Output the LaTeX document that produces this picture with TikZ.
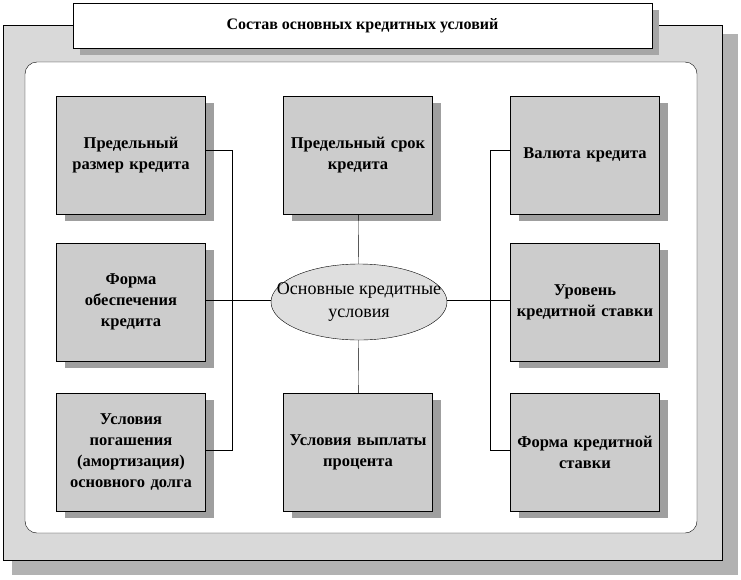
\documentclass[tikz,border=0pt]{standalone}
\usepackage{fontspec}
\setmainfont{Liberation Serif}
\usetikzlibrary{positioning,shapes.geometric}
\tikzset{
  cond/.style={draw, fill=gray!40, inner xsep=2pt, minimum width=149pt, minimum height=118pt, text width=145pt, align=center, font=\fontsize{16.5}{21}\selectfont\bfseries},
  shade/.style={fill=gray!75, draw=none},
  link/.style={draw, thin}
}
\begin{document}
\begin{tikzpicture}[x=1pt,y=-1pt]
  \useasboundingbox (0,0) rectangle (741,579);
  % frame
  \fill[gray!60] (12,34) rectangle (738,575);
  \draw[fill=gray!30] (3,25) rectangle (722,560);
  \fill[gray!70] (80,10) rectangle (659,55);
  \node[draw, fill=white, minimum width=579pt, minimum height=45pt, font=\fontsize{16}{19}\selectfont\bfseries] (title) at (362.5,25.5) {Состав основных кредитных условий};
  \draw[fill=white, rounded corners=12pt] (25,62) rectangle (697,533);
  % shadows
  \foreach \cx/\cy in {131/155, 131/302, 131/452, 358/155, 358/452, 585/155, 585/302, 585/452}
    \fill[shade] (\cx-66.5,\cy-52) rectangle (\cx+82.5,\cy+66);
  % boxes
  \node[cond] (size) at (131,155) {Предельный\\размер кредита};
  \node[cond] (pledge) at (131,302) {Форма\\обеспечения\\кредита};
  \node[cond] (repay) at (131,452) {Условия\\погашения\\(амортизация)\\основного долга};
  \node[cond] (term) at (358,155) {Предельный срок\\кредита};
  \node[cond] (interest) at (358,452) {Условия выплаты\\процента};
  \node[cond] (currency) at (585,155) {Валюта кредита};
  \node[cond] (rate) at (585,302) {Уровень\\кредитной ставки};
  \node[cond] (form) at (585,452) {Форма кредитной\\ставки};
  \node[ellipse, draw, fill=gray!25, inner sep=0pt, minimum width=176pt, minimum height=76pt] (core) at (359,302) {};
  \node[align=center, font=\fontsize{18}{23}\selectfont] (coretext) at (core) {Основные кредитные\\условия};
  % connectors
  \coordinate (lb) at (232,300);
  \coordinate (rb) at (490,300);
  \draw[link] (size.east |- 0,150) -| (lb |- 0,450) -- (repay.east |- 0,450);
  \draw[link] (pledge.east |- lb) -- (core.west |- lb);
  \draw[link] (currency.west |- 0,150) -| (rb |- 0,450) -- (form.west |- 0,450);
  \draw[link] (rate.west |- rb) -- (core.east |- rb);
  \draw[link] (term) -- (core);
  \draw[link] (core) -- (interest);
\end{tikzpicture}
\end{document}
